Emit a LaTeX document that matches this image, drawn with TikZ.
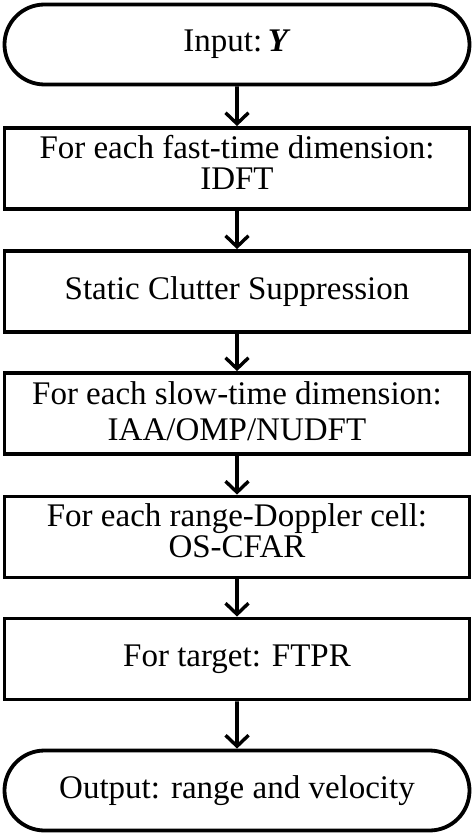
\documentclass[tikz,border=0pt]{standalone}
\usepackage{fontspec}
\setmainfont{Liberation Serif}
\usepackage{tikz}
\usetikzlibrary{arrows.meta,shapes.misc}

\begin{document}
\begin{tikzpicture}[x=1pt,y=-1pt,line width=3.8pt,
  >={Straight Barb[length=11pt,width=23pt,line width=3.4pt]},
  every node/.style={font=\fontsize{33}{31}\selectfont,align=center,inner sep=0pt},
  terminal/.style={draw,rounded rectangle,minimum width=465pt,minimum height=80pt},
  process/.style={draw,rectangle,minimum width=465pt,minimum height=81pt},
  twoline/.style={process,text depth=12pt}]
  \useasboundingbox (0,0) rectangle (474,837);
  \node[terminal] (in) at (237,44.5) {Input:\,\textbf{\textit{Y}}};
  \node[twoline] (idft) at (237,168.5) {For each fast-time dimension:\\IDFT};
  \node[process] (scs) at (237,291.5) {Static Clutter Suppression};
  \node[process,text depth=5pt] (slow) at (237,413.5) {For each slow-time dimension:\\[5pt]IAA/OMP/NUDFT};
  \node[twoline] (cfar) at (237,537) {For each range-Doppler cell:\\OS-CFAR};
  \node[process] (ftpr) at (237,659) {For target: FTPR};
  \node[terminal] (out) at (237,790.5) {Output: range and velocity};
  \foreach \a/\b in {in/idft,idft/scs,scs/slow,slow/cfar,cfar/ftpr,ftpr/out}
    \draw[->] (\a) -- (\b);
\end{tikzpicture}
\end{document}
